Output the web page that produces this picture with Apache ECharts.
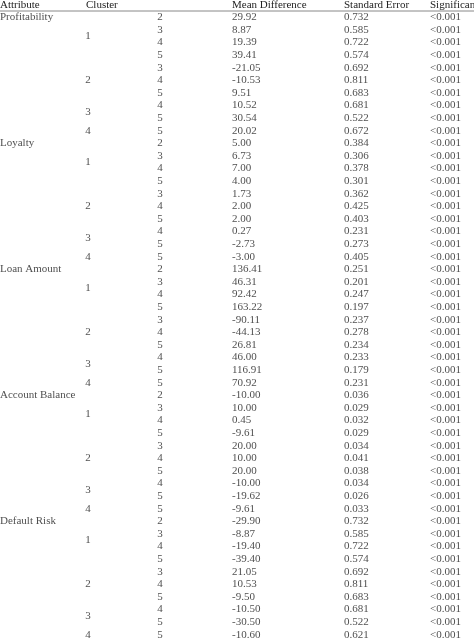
<!DOCTYPE html>
<html><head><meta charset="utf-8">
<script src="https://cdn.jsdelivr.net/npm/echarts@6/dist/echarts.min.js"></script>
<style>html,body{margin:0;padding:0;background:#fff}#c{width:474px;height:641px}</style>
</head><body><div id="c"></div>
<script>
const headers = ["Attribute","Cluster","Mean Difference","Standard Error","Significance"];
const attributes = ["Profitability","Loyalty","Loan Amount","Account Balance","Default Risk"];
const clusterI = [1,1,1,1,2,2,2,3,3,4];
const clusterJ = [2,3,4,5,3,4,5,4,5,5];
const meanDiff = [
 "29.92","8.87","19.39","39.41","-21.05","-10.53","9.51","10.52","30.54","20.02",
 "5.00","6.73","7.00","4.00","1.73","2.00","2.00","0.27","-2.73","-3.00",
 "136.41","46.31","92.42","163.22","-90.11","-44.13","26.81","46.00","116.91","70.92",
 "-10.00","10.00","0.45","-9.61","20.00","10.00","20.00","-10.00","-19.62","-9.61",
 "-29.90","-8.87","-19.40","-39.40","21.05","10.53","-9.50","-10.50","-30.50","-10.60"];
const stdErr = [
 "0.732","0.585","0.722","0.574","0.692","0.811","0.683","0.681","0.522","0.672",
 "0.384","0.306","0.378","0.301","0.362","0.425","0.403","0.231","0.273","0.405",
 "0.251","0.201","0.247","0.197","0.237","0.278","0.234","0.233","0.179","0.231",
 "0.036","0.029","0.032","0.029","0.034","0.041","0.038","0.034","0.026","0.033",
 "0.732","0.585","0.722","0.574","0.692","0.811","0.683","0.681","0.522","0.621"];
const significance = new Array(50).fill("<0.001");

const FONT = "Liberation Serif";
const COL = {attr:0, i:88, j:160, md:232, se:344, sig:430};
const baseLabel = {show:true, fontFamily:FONT, fontSize:11, color:'#222'};

function textSeries(points, x, align){
  return {type:'scatter', symbolSize:0.01, silent:true,
    data: points.map(p=>({value:[x, p.row], name:p.text})),
    label: Object.assign({}, baseLabel, {position:'inside', align:align, verticalAlign:'middle',
      formatter: d=>d.name})};
}
const attrPts=[], iPts=[], jPts=[], mdPts=[], sePts=[], sigPts=[];
attributes.forEach((a,ai)=>{
  const off = ai*clusterJ.length;
  attrPts.push({row:off+0.5, text:a});
  clusterJ.forEach((j,k)=>{
    const r=off+k+0.5;
    jPts.push({row:r,text:String(j)});
    mdPts.push({row:r,text:meanDiff[off+k]});
    sePts.push({row:r,text:stdErr[off+k]});
    sigPts.push({row:r,text:significance[off+k]});
  });
  [...new Set(clusterI)].forEach(ci=>{
    const idx = clusterI.map((v,k)=>v===ci?k:-1).filter(k=>k>=0);
    const mid = (idx[0]+idx[idx.length-1])/2;
    iPts.push({row:off+mid+0.5, text:String(ci)});
  });
});

const chart = echarts.init(document.getElementById('c'));
chart.setOption({
  animation:false,
  grid:{left:0,right:0,top:11,bottom:0},
  xAxis:{type:'value',min:0,max:474,show:false},
  yAxis:{type:'value',min:0,max:50,inverse:true,show:false},
  graphic:[
    {type:'line',shape:{x1:0,y1:11,x2:474,y2:11},style:{stroke:'#888',lineWidth:1}},
    ...headers.map((h,k)=>({type:'text',left:[0,86,232,344,430][k],top:0,
      style:{text:h,font:'11px "'+FONT+'"',fill:'#222'}}))
  ],
  series:[
    textSeries(attrPts,COL.attr,'left'),
    textSeries(iPts,COL.i,'center'),
    textSeries(jPts,COL.j,'center'),
    textSeries(mdPts,COL.md,'left'),
    textSeries(sePts,COL.se,'left'),
    textSeries(sigPts,COL.sig,'left')
  ]
});
</script></body></html>
